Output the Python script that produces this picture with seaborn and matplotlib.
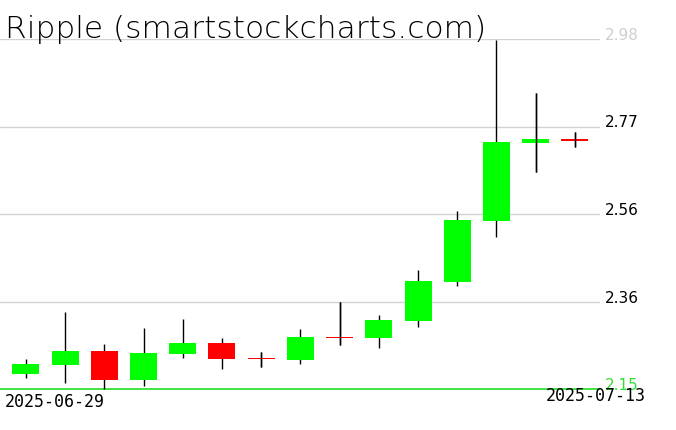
import numpy as np
import pandas as pd
import seaborn as sns
import matplotlib
matplotlib.use('Agg')
import matplotlib.pyplot as plt
import matplotlib.transforms as mtransforms

# daily candles, 2025-06-29 .. 2025-07-13
dates = pd.date_range('2025-06-29', '2025-07-13', freq='D')
opens = [2.186, 2.207, 2.239, 2.172, 2.233, 2.259, 2.224, 2.219, 2.2727, 2.272, 2.311, 2.404, 2.549, 2.733, 2.743]
highs = [2.221, 2.333, 2.257, 2.295, 2.316, 2.271, 2.238, 2.292, 2.356, 2.325, 2.432, 2.572, 2.978, 2.851, 2.760]
lows = [2.176, 2.164, 2.150, 2.158, 2.224, 2.197, 2.202, 2.209, 2.255, 2.248, 2.298, 2.395, 2.511, 2.665, 2.725]
closes = [2.209, 2.240, 2.172, 2.235, 2.259, 2.221, 2.220, 2.273, 2.2700, 2.314, 2.406, 2.551, 2.735, 2.743, 2.739]

y_ticks = [2.15, 2.3575, 2.565, 2.7725, 2.98]
y_labels = ['2.15', '2.36', '2.56', '2.77', '2.98']
title = 'Ripple (smartstockcharts.com)'

df = pd.DataFrame({'date': dates, 'open': opens, 'high': highs, 'low': lows, 'close': closes})
df['idx'] = np.arange(len(df))
df['up'] = df['close'] >= df['open']
df['bottom'] = df[['open', 'close']].min(axis=1)
df['height'] = (df['close'] - df['open']).abs().clip(lower=0.003)
flat = df[df['height'] < 0.012]

sns.set_theme(style='white')
plt.rcParams['font.family'] = ['DejaVu Sans']

fig = plt.figure(figsize=(6.76, 4.31), dpi=100)
W, H = 676, 431
ax = fig.add_axes([0, (H - 390) / H, 600 / W, 350 / H])

grid_col = '#d2d2d2'
green = '#00ff00'
red = '#ff0000'

for v in y_ticks[1:]:
    ax.axhline(v, color=grid_col, lw=1, zorder=0)
ax.axhline(y_ticks[0], color='#22dd22', lw=1.2, zorder=0, clip_on=False)

ax.vlines(df['idx'], df['low'], df['high'], color='black', lw=1, zorder=2, clip_on=False)
ax.bar(df['idx'], df['height'], bottom=df['bottom'], width=0.69,
       color=np.where(df['up'], green, red), edgecolor='none', zorder=3)
# wick crosses over the thin (doji-like) bodies
ax.vlines(flat['idx'], flat['low'], flat['high'], color='black', lw=1, zorder=4)

ax.set_xlim(-0.66, 14.64)
ax.set_ylim(2.15, 2.98)
ax.set_xticks([])
ax.set_yticks([])
sns.despine(ax=ax, left=True, bottom=True, right=True, top=True)

trans = mtransforms.blended_transform_factory(ax.transAxes, ax.transData)
label_cols = ['#33dd33', 'black', 'black', 'black', '#cfcfcf']
for v, lab, c in zip(y_ticks, y_labels, label_cols):
    ax.text(1.008, v, lab, transform=trans, ha='left', va='baseline',
            fontsize=11, color=c, clip_on=False)

fig.text(5 / W, (H - 38) / H, title, ha='left', va='baseline',
         fontsize=22.5, fontweight='light', color='black')
fig.text(5 / W, (H - 407) / H, df['date'].iloc[0].strftime('%Y-%m-%d'),
         ha='left', va='baseline', fontsize=12, family='DejaVu Sans Mono', color='black')
fig.text(646 / W, (H - 401) / H, df['date'].iloc[-1].strftime('%Y-%m-%d'),
         ha='right', va='baseline', fontsize=12, family='DejaVu Sans Mono', color='black')

fig.savefig('out.png', dpi=100, facecolor='white')
